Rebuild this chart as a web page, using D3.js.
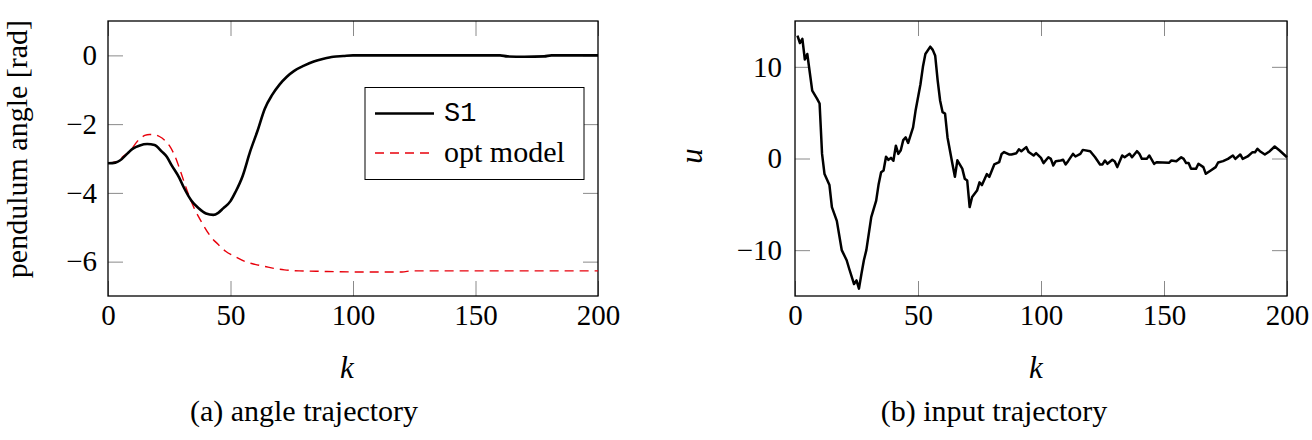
<!DOCTYPE html>
<html>
<head>
<meta charset="utf-8">
<script src="https://cdn.jsdelivr.net/npm/d3@7"></script>
<style>
  body { margin: 0; background: #fff; }
  svg text { fill: #000; }
</style>
</head>
<body>
<svg id="fig" width="1312" height="440" font-family="Liberation Serif, serif"></svg>
<script>
// ---- data ----
const kTicks = [0, 50, 100, 150, 200];
const angleTicks = [0, -2, -4, -6];
const uTicks = [-10, 0, 10];

// S1 pendulum angle
const s1K   = [0, 3, 5, 8, 10, 13, 16, 19, 22, 24, 26, 29, 31, 34, 37, 40, 43, 45, 47, 50,
               52, 55, 58, 61, 64, 67, 70, 73, 76, 80, 84, 88, 92, 96, 100, 130, 160, 163, 170, 178, 181, 200];
const s1Val = [-3.14, -3.12, -3.05, -2.85, -2.72, -2.62, -2.58, -2.61, -2.8, -2.95, -3.2, -3.55, -3.85, -4.22, -4.45, -4.6, -4.64, -4.58, -4.45, -4.24,
               -3.98, -3.5, -2.8, -2.2, -1.55, -1.15, -0.85, -0.62, -0.45, -0.3, -0.18, -0.1, -0.04, -0.02, 0, 0, 0, -0.03, -0.04, -0.03, 0, 0];

// opt model pendulum angle
const optK   = [0, 3, 6, 9, 12, 15, 17, 19, 21, 23, 25, 27, 29, 31, 33, 35, 37, 39, 42, 45,
                48, 52, 56, 60, 64, 68, 72, 78, 85, 100, 120, 124, 200];
const optVal = [-3.14, -3.1, -2.95, -2.78, -2.5, -2.33, -2.3, -2.31, -2.36, -2.46, -2.62, -2.88, -3.25, -3.67, -4.07, -4.42, -4.7, -4.95, -5.28, -5.5,
                -5.7, -5.86, -6.0, -6.08, -6.14, -6.2, -6.24, -6.27, -6.28, -6.3, -6.3, -6.27, -6.27];

// input u
const uK = [1, 2, 3, 4, 5, 7, 9, 10, 11, 12, 14, 15, 17, 19, 21, 22, 24, 25, 26, 27,
            28, 29, 31, 33, 34, 35, 36, 37, 38, 39, 40, 41, 42, 43, 44, 45, 46, 48, 49, 51,
            52, 53, 55, 56, 57, 58, 59, 60, 61, 62, 64, 65, 66, 68, 69, 70, 71, 72, 74, 75,
            76, 78, 79, 81, 83, 84, 85, 87, 88, 90, 91, 92, 94, 95, 97, 98, 100, 101, 103, 104,
            105, 106, 108, 109, 110, 111, 113, 114, 116, 117, 120, 122, 124, 125, 126, 127, 129, 130, 131, 133,
            134, 136, 137, 139, 140, 141, 143, 144, 146, 147, 152, 153, 155, 157, 158, 159, 160, 161, 163, 164,
            166, 167, 169, 171, 172, 174, 176, 178, 179, 181, 182, 184, 186, 187, 188, 189, 191, 193, 195, 197, 200];
const uVal = [13.4, 12.6, 13.05, 10.8, 11.4, 7.4, 6.5, 6.0, 0.5, -1.7, -2.9, -5.3, -6.8, -10.0, -11.1, -12.0, -13.7, -13.3, -14.2, -12.6,
              -11.1, -10.0, -6.4, -4.6, -2.8, -1.5, -1.3, 0.2, -0.15, 0.07, -0.25, 1.4, 0.5, 0.9, 2.0, 2.3, 1.7, 3.4, 5.2, 8.1,
              10.0, 11.4, 12.2, 11.85, 11.2, 8.5, 6.3, 5.05, 4.9, 2.3, -0.6, -2.0, -0.2, -1.1, -2.2, -2.4, -5.3, -4.2, -3.5, -2.6,
              -2.9, -1.7, -2.0, -0.65, -0.4, 0.5, 0.7, 0.44, 0.44, 0.58, 1.0, 0.8, 1.24, 0.7, 0.33, 0.58, 0.07, -0.5, 0.14, -0.04,
              -0.76, -0.29, -0.22, -0.14, -0.65, -0.29, 0.51, 0.22, 0.51, 0.94, 0.8, 0.14, -0.65, -0.65, -0.22, -0.58, -0.14, -0.33, -0.94, 0.33,
              0.14, 0.51, 0.14, 0.8, 0.51, -0.04, -0.04, 0.33, -0.58, -0.4, -0.47, -0.22, -0.29, 0.14, -0.04, -0.5, -0.5, -1.13, -1.13, -0.58,
              -0.94, -1.67, -1.3, -0.94, -0.44, -0.29, -0.04, 0.33, -0.04, 0.44, -0.04, 0.22, 0.69, 0.69, 1.06, 0.8, 0.44, 0.8, 1.31, 0.87, 0.14];

const serif = 'Liberation Serif';
const svg = d3.select('#fig');

// one boxed panel, pgfplots style: inward grey ticks on all four sides
function drawPanel(box, yDomain, yTicks, labelPad) {
  const x = d3.scaleLinear().domain([0, 200]).range([box.left, box.right]);
  const y = d3.scaleLinear().domain(yDomain).range([box.bottom, box.top]);
  const g = svg.append('g');
  const tick = 15;

  const axes = [
    [d3.axisBottom(x).tickValues(kTicks).tickPadding(8), box.bottom, 'x'],
    [d3.axisTop(x).tickValues(kTicks).tickFormat(''), box.top, 'x'],
    [d3.axisLeft(y).tickValues(yTicks).tickPadding(labelPad), box.left, 'y'],
    [d3.axisRight(y).tickValues(yTicks).tickFormat(''), box.right, 'y']
  ];
  axes.forEach(([ax, pos, dir]) => {
    ax.tickSizeInner(-tick).tickSizeOuter(0);
    const a = g.append('g')
      .attr('transform', dir === 'x' ? `translate(0,${pos})` : `translate(${pos},0)`)
      .call(ax)
      .attr('font-family', serif)
      .attr('font-size', 29);
    a.select('.domain').remove();
    a.selectAll('.tick line').attr('stroke', '#8a8a8a').attr('stroke-width', 1);
    a.selectAll('.tick text').attr('fill', '#000');
  });

  g.append('rect')
    .attr('x', box.left).attr('y', box.top)
    .attr('width', box.right - box.left).attr('height', box.bottom - box.top)
    .attr('fill', 'none').attr('stroke', '#000').attr('stroke-width', 1.3);
  return { x, y, g };
}

function label(x, y, txt, size, opts = {}) {
  const t = svg.append('text')
    .attr('font-family', opts.family || serif)
    .attr('font-size', size)
    .attr('text-anchor', opts.anchor || 'middle')
    .text(txt);
  if (opts.italic) t.attr('font-style', 'italic');
  if (opts.rotate) t.attr('transform', `translate(${x},${y}) rotate(-90)`);
  else t.attr('x', x).attr('y', y);
  return t;
}

// ---- (a) angle trajectory ----
const pa = drawPanel({ left: 108, right: 598, top: 21, bottom: 296 }, [-7, 1], angleTicks, 11);

const lineA = d3.line()
  .x(d => pa.x(d[0])).y(d => pa.y(d[1]))
  .curve(d3.curveMonotoneX);

pa.g.append('path')
  .datum(d3.zip(optK, optVal))
  .attr('d', lineA)
  .attr('fill', 'none').attr('stroke', '#e8000b')
  .attr('stroke-width', 1.4).attr('stroke-dasharray', '9,6');

pa.g.append('path')
  .datum(d3.zip(s1K, s1Val))
  .attr('d', lineA)
  .attr('fill', 'none').attr('stroke', '#000')
  .attr('stroke-width', 2.6).attr('stroke-linejoin', 'round');

// legend
pa.g.append('rect')
  .attr('x', 365).attr('y', 87.5).attr('width', 219).attr('height', 92)
  .attr('fill', '#fff').attr('stroke', '#000').attr('stroke-width', 1);
pa.g.append('line')
  .attr('x1', 375).attr('x2', 434).attr('y1', 113.5).attr('y2', 113.5)
  .attr('stroke', '#000').attr('stroke-width', 2.6);
pa.g.append('line')
  .attr('x1', 375).attr('x2', 434).attr('y1', 153).attr('y2', 153)
  .attr('stroke', '#e8000b').attr('stroke-width', 1.4).attr('stroke-dasharray', '9,6');
label(444, 121, 'S1', 27, { anchor: 'start', family: 'Liberation Mono' });
label(444, 162, 'opt model', 30, { anchor: 'start' });

label(27, 149, 'pendulum angle [rad]', 30, { rotate: true });
label(347, 378, 'k', 31, { italic: true });
label(304, 421, '(a) angle trajectory', 30);

// ---- (b) input trajectory ----
const pb = drawPanel({ left: 795, right: 1287, top: 21, bottom: 296 }, [-15, 15], uTicks, 13);

pb.g.append('path')
  .datum(d3.zip(uK, uVal))
  .attr('d', d3.line().x(d => pb.x(d[0])).y(d => pb.y(d[1])))
  .attr('fill', 'none').attr('stroke', '#000')
  .attr('stroke-width', 2.5).attr('stroke-linejoin', 'round');

label(702, 156, 'u', 31, { italic: true, rotate: true });
label(1036, 378, 'k', 31, { italic: true });
label(994, 421, '(b) input trajectory', 30);
</script>
</body>
</html>
